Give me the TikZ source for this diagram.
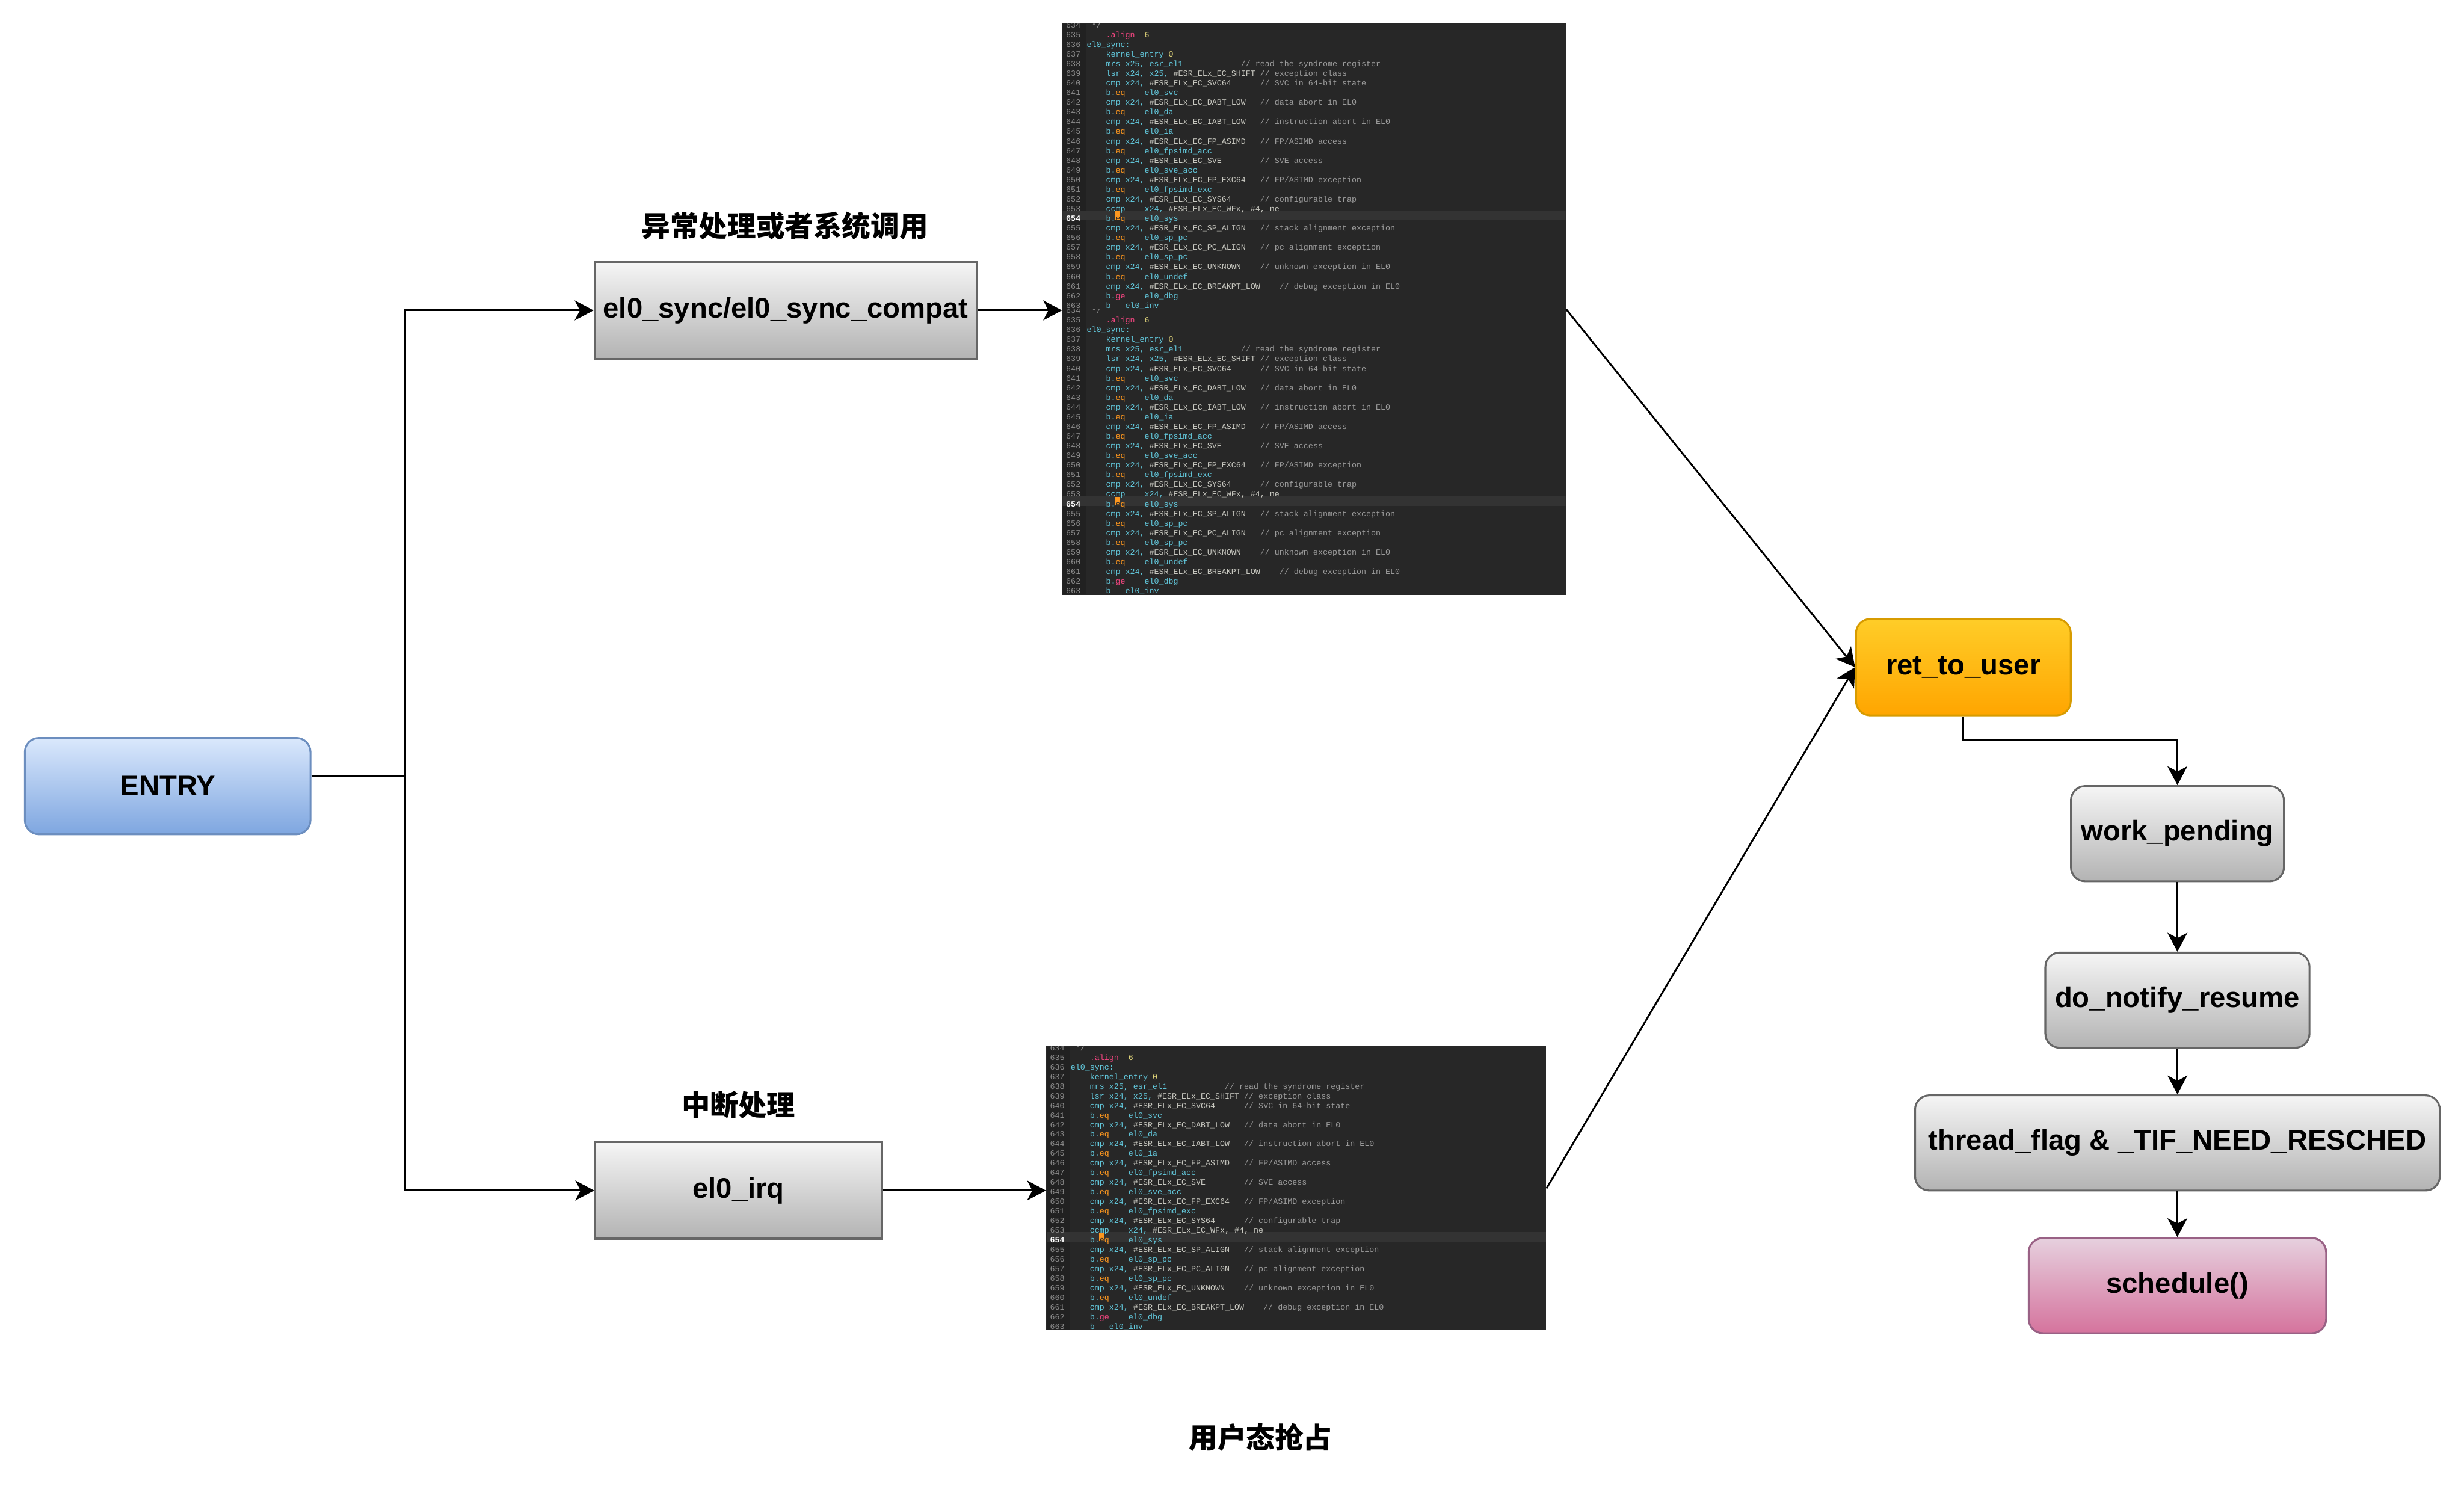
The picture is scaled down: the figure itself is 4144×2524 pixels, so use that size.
\documentclass[tikz,border=0pt]{standalone}
\usepackage{fontspec}
\setmainfont{Liberation Sans}
\newfontfamily\cjk{Noto Sans CJK SC}
\newfontfamily\codefont{Liberation Mono}
\usetikzlibrary{arrows.meta}

\definecolor{etop}{HTML}{DAE8FC}\definecolor{ebot}{HTML}{7EA6E0}\definecolor{estr}{HTML}{6C8EBF}
\definecolor{gtop}{HTML}{F5F5F5}\definecolor{gbot}{HTML}{B3B3B3}\definecolor{gstr}{HTML}{666666}
\definecolor{rtop}{HTML}{FFCD28}\definecolor{rbot}{HTML}{FFA500}\definecolor{rstr}{HTML}{D79B00}
\definecolor{stop}{HTML}{E6D0DE}\definecolor{sbot}{HTML}{D5739D}\definecolor{sstr}{HTML}{996185}
\definecolor{edbg}{HTML}{272727}\definecolor{gutbg}{HTML}{212121}\definecolor{hlbg}{HTML}{333333}
\definecolor{cursorc}{HTML}{FD971F}
\definecolor{ccy}{HTML}{62C8DC}\definecolor{cwh}{HTML}{C8C8C0}\definecolor{ccm}{HTML}{9A9A9A}
\definecolor{cpk}{HTML}{F0457F}\definecolor{cor}{HTML}{FD971F}\definecolor{cyl}{HTML}{E0D47A}
\definecolor{clnum}{HTML}{8A8A8A}

\newlength\cw
\setlength\cw{0.081cm}
\newcommand\sk[1]{\hspace*{#1\cw}}
\newcommand\Cy[1]{\textcolor{ccy}{#1}}
\newcommand\Wh[1]{\textcolor{cwh}{#1}}
\newcommand\Cm[1]{\textcolor{ccm}{#1}}
\newcommand\Pk[1]{\textcolor{cpk}{#1}}
\newcommand\Or[1]{\textcolor{cor}{#1}}
\newcommand\Yl[1]{\textcolor{cyl}{#1}}

\def\codelist{%
{\sk{4}\Pk{.align}\sk{2}\Yl{6}},%
{\Cy{el0\_sync:}},%
{\sk{4}\Cy{kernel\_entry} \Yl{0}},%
{\sk{4}\Cy{mrs x25, esr\_el1}\sk{12}\Cm{// read the syndrome register}},%
{\sk{4}\Cy{lsr x24, x25,} \Wh{\#ESR\_ELx\_EC\_SHIFT} \Cm{// exception class}},%
{\sk{4}\Cy{cmp x24,} \Wh{\#ESR\_ELx\_EC\_SVC64}\sk{6}\Cm{// SVC in 64-bit state}},%
{\sk{4}\Cy{b.}\Or{eq}\sk{4}\Cy{el0\_svc}},%
{\sk{4}\Cy{cmp x24,} \Wh{\#ESR\_ELx\_EC\_DABT\_LOW}\sk{3}\Cm{// data abort in EL0}},%
{\sk{4}\Cy{b.}\Or{eq}\sk{4}\Cy{el0\_da}},%
{\sk{4}\Cy{cmp x24,} \Wh{\#ESR\_ELx\_EC\_IABT\_LOW}\sk{3}\Cm{// instruction abort in EL0}},%
{\sk{4}\Cy{b.}\Or{eq}\sk{4}\Cy{el0\_ia}},%
{\sk{4}\Cy{cmp x24,} \Wh{\#ESR\_ELx\_EC\_FP\_ASIMD}\sk{3}\Cm{// FP/ASIMD access}},%
{\sk{4}\Cy{b.}\Or{eq}\sk{4}\Cy{el0\_fpsimd\_acc}},%
{\sk{4}\Cy{cmp x24,} \Wh{\#ESR\_ELx\_EC\_SVE}\sk{8}\Cm{// SVE access}},%
{\sk{4}\Cy{b.}\Or{eq}\sk{4}\Cy{el0\_sve\_acc}},%
{\sk{4}\Cy{cmp x24,} \Wh{\#ESR\_ELx\_EC\_FP\_EXC64}\sk{3}\Cm{// FP/ASIMD exception}},%
{\sk{4}\Cy{b.}\Or{eq}\sk{4}\Cy{el0\_fpsimd\_exc}},%
{\sk{4}\Cy{cmp x24,} \Wh{\#ESR\_ELx\_EC\_SYS64}\sk{6}\Cm{// configurable trap}},%
{\sk{4}\Cy{ccmp}\sk{4}\Cy{x24,} \Wh{\#ESR\_ELx\_EC\_WFx, \#4, ne}},%
{\sk{4}\Cy{b.}\textcolor{edbg}{e}\Or{q}\sk{4}\Cy{el0\_sys}},%
{\sk{4}\Cy{cmp x24,} \Wh{\#ESR\_ELx\_EC\_SP\_ALIGN}\sk{3}\Cm{// stack alignment exception}},%
{\sk{4}\Cy{b.}\Or{eq}\sk{4}\Cy{el0\_sp\_pc}},%
{\sk{4}\Cy{cmp x24,} \Wh{\#ESR\_ELx\_EC\_PC\_ALIGN}\sk{3}\Cm{// pc alignment exception}},%
{\sk{4}\Cy{b.}\Or{eq}\sk{4}\Cy{el0\_sp\_pc}},%
{\sk{4}\Cy{cmp x24,} \Wh{\#ESR\_ELx\_EC\_UNKNOWN}\sk{4}\Cm{// unknown exception in EL0}},%
{\sk{4}\Cy{b.}\Or{eq}\sk{4}\Cy{el0\_undef}},%
{\sk{4}\Cy{cmp x24,} \Wh{\#ESR\_ELx\_EC\_BREAKPT\_LOW}\sk{4}\Cm{// debug exception in EL0}},%
{\sk{4}\Cy{b.}\Pk{ge}\sk{4}\Cy{el0\_dbg}},%
{\sk{4}\Cy{b}\sk{3}\Cy{el0\_inv}}%
}

\tikzset{
  lbl/.style={font=\bfseries\fontsize{13.6pt}{16pt}\selectfont, text=black, align=center, inner sep=0pt},
  box/.style={lbl, draw, line width=0.9pt},
  roundbox/.style={box, rounded corners=0.24cm},
  entrybox/.style={roundbox, top color=etop, bottom color=ebot, draw=estr},
  graybox/.style={roundbox, top color=gtop, bottom color=gbot, draw=gstr},
  graysq/.style={box, top color=gtop, bottom color=gbot, draw=gstr},
  retbox/.style={roundbox, top color=rtop, bottom color=rbot, draw=rstr},
  schedbox/.style={roundbox, top color=stop, bottom color=sbot, draw=sstr},
  shot/.style={fill=edbg, draw=none, inner sep=0pt},
  ttl/.style={text=black, inner sep=0pt},
  conn/.style={line width=0.85pt, draw=black},
  arr/.style={conn, -{Stealth[length=9pt,width=9.5pt,inset=2.5pt]}},
  lnum/.style={anchor=mid east, inner sep=0pt, font=\codefont\fontsize{3.84pt}{4.6pt}\selectfont, text=clnum},
  code/.style={anchor=mid west, inner sep=0pt, font=\codefont\fontsize{3.84pt}{4.6pt}\selectfont\frenchspacing, text=ccy},
}

% #1 name prefix, #2 left, #3 top, #4 width, #5 height, #6 line pitch
\newcommand\codeshot[6]{%
  \begin{scope}
    \clip (#2,#3) rectangle ++(#4,#5);
    \fill[edbg] (#2,#3) rectangle ++(#4,#5);
    \fill[gutbg] (#2,#3) rectangle ++(39,#5);
    \fill[hlbg] ({#2},{#3+13.7+19*#6-#6/2}) rectangle ++(#4,#6);
    \fill[cursorc] ({#2+88.6},{#3+13.7+19*#6-7.2}) rectangle ++(8.1,14.3);
    \node[lnum] (#1n634) at ({#2+31},{#3+13.7-#6}) {634};
    \node[code] (#1c634) at ({#2+40},{#3+13.7-#6}) {\sk{1}\Cm{*/}};
    \foreach \t [count=\i from 0] in \codelist {
      \pgfmathtruncatemacro\ln{635+\i}
      \node[lnum] (#1n\ln) at ({#2+31},{#3+13.7+\i*#6}) {\ifnum\i=19 \color{white}\bfseries\fi\ln};
      \node[code] (#1c\ln) at ({#2+40},{#3+13.7+\i*#6}) {\t};
    }
  \end{scope}}

\begin{document}
\begin{tikzpicture}[x=0.01cm, y=-0.01cm]
  \useasboundingbox (0,0) rectangle (4144,2524);
  \fill[white] (0,0) rectangle (4144,2524);

  % main nodes
  \node[entrybox, minimum width=4.8cm, minimum height=1.62cm] (entry) at (282,1322) {ENTRY};
  \node[graysq, minimum width=6.43cm, minimum height=1.62cm] (sync) at (1321.5,522) {el0\_sync/el0\_sync\_compat};
  \node[graysq, minimum width=4.82cm, minimum height=1.62cm] (irq) at (1242,2002) {el0\_irq};
  \node[retbox, minimum width=3.61cm, minimum height=1.62cm] (ret) at (3302,1122) {ret\_to\_user};
  \node[graybox, minimum width=3.58cm, minimum height=1.6cm] (work) at (3662,1402) {work\_pending};
  \node[graybox, minimum width=4.44cm, minimum height=1.6cm] (notify) at (3662,1682) {do\_notify\_resume};
  \node[graybox, minimum width=8.82cm, minimum height=1.6cm] (thread) at (3662,1922) {thread\_flag \& \_TIF\_NEED\_RESCHED};
  \node[schedbox, minimum width=5.0cm, minimum height=1.6cm] (sched) at (3662,2162) {schedule()};

  % code screenshots
  \node[shot, minimum width=8.46cm, minimum height=9.6cm] (codeTop) at (2210,520) {};
  \node[shot, minimum width=8.40cm, minimum height=4.77cm] (codeBot) at (2180,1998.5) {};
  \codeshot{ta}{1787}{40}{846}{480}{16.26}
  \codeshot{tb}{1787}{520}{846}{480}{16.26}
  \codeshot{bb}{1760}{1760}{840}{477}{16.14}

  % titles
  \node[ttl, font=\cjk\bfseries\fontsize{13.7pt}{16pt}\selectfont] (title1) at (1320,380) {异常处理或者系统调用};
  \node[ttl, font=\cjk\bfseries\fontsize{13.6pt}{16pt}\selectfont] (title2) at (1242,1858) {中断处理};
  \node[ttl, font=\cjk\bfseries\fontsize{13.7pt}{16pt}\selectfont] (title3) at (2120,2417) {用户态抢占};

  % connectors
  \coordinate (bus) at (681,1306);
  \draw[conn] (entry.east |- bus) -- (bus);
  \draw[arr] (bus) |- (sync.west);
  \draw[arr] (bus) |- (irq.west);
  \draw[arr] (sync.east) -- (sync.east -| codeTop.west);
  \draw[arr] (irq.east) -- (irq.east -| codeBot.west);
  \draw[arr] (codeTop.east) -- (ret.west);
  \draw[arr] (codeBot.east) -- (ret.west);
  \draw[arr] (ret.south) -- ++(0,39) -| (work.north);
  \draw[arr] (work.south) -- (notify.north);
  \draw[arr] (notify.south) -- (thread.north);
  \draw[arr] (thread.south) -- (sched.north);
\end{tikzpicture}
\end{document}
